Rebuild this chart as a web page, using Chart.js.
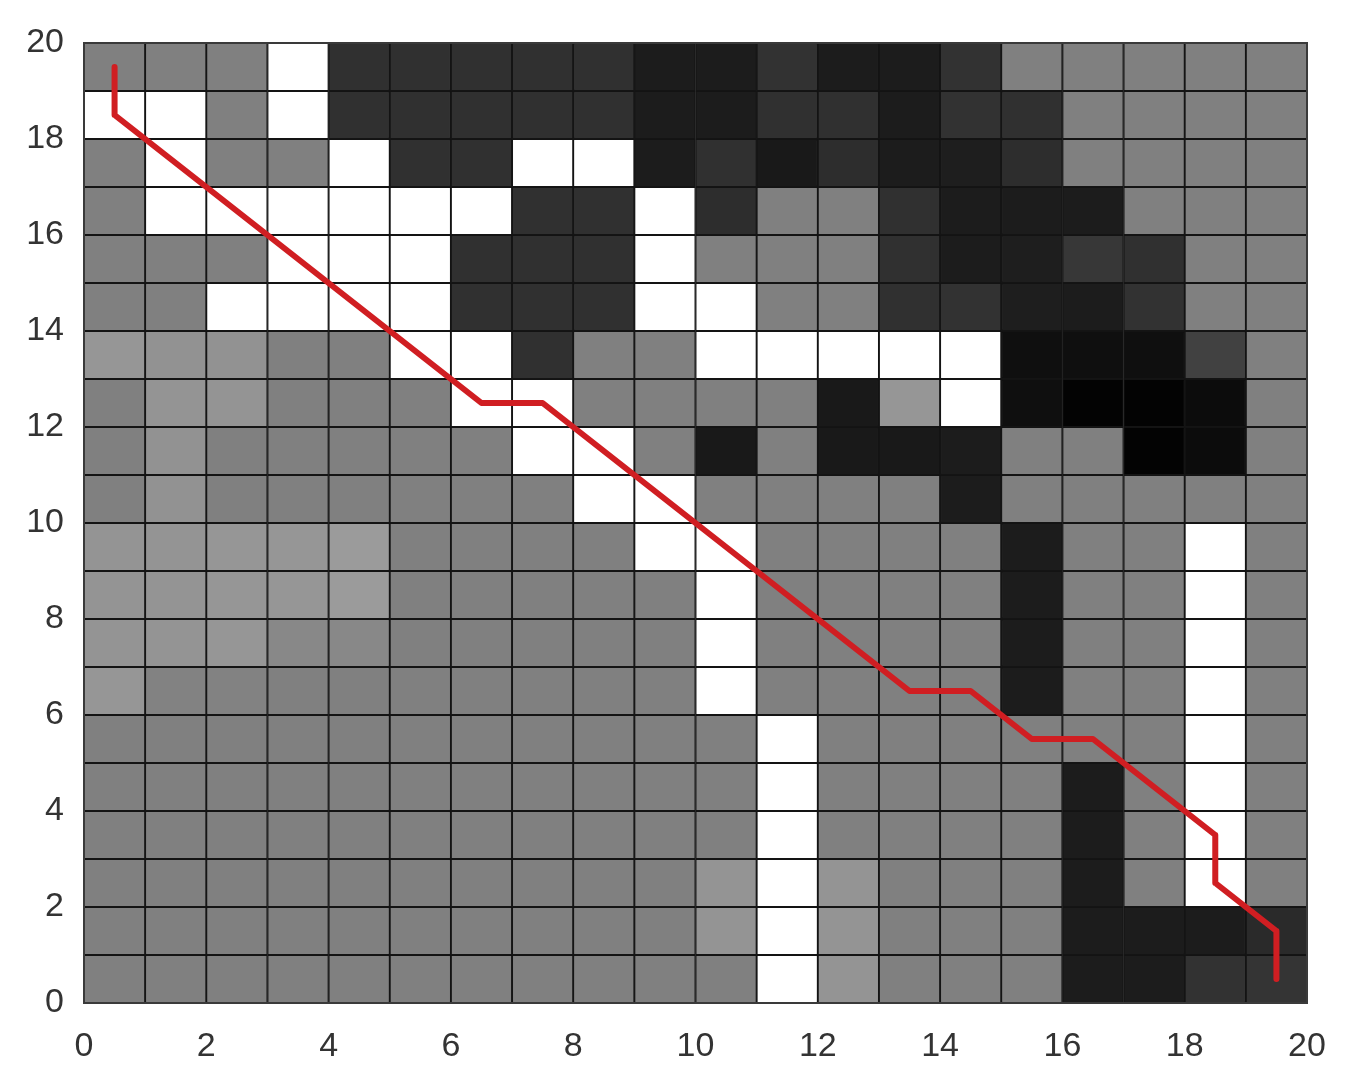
<!DOCTYPE html>
<html>
<head>
<meta charset="utf-8">
<script src="https://cdn.jsdelivr.net/npm/chart.js@4/dist/chart.umd.min.js"></script>
<style>
  html, body { margin: 0; padding: 0; background: #fff; }
  #wrap { width: 1352px; height: 1088px; }
</style>
</head>
<body>
<div id="wrap"><canvas id="grid"></canvas></div>
<script>
// grey level of each cell (0 = black, 255 = white), top row (y 19..20) first
const cellShade = [
  [128,128,128,255,48,48,48,48,48,28, 28,50,28,28,50,128,128,128,128,128],
  [255,255,128,255,48,48,48,48,48,28, 28,48,48,28,50,48,128,128,128,128],
  [128,255,128,128,255,48,48,255,255,28, 48,25,45,28,30,45,128,128,128,128],
  [128,255,255,255,255,255,255,48,48,255, 45,128,128,48,28,28,28,128,128,128],
  [128,128,128,255,255,255,48,48,48,255, 128,128,128,48,28,30,55,48,128,128],
  [128,128,255,255,255,255,48,48,48,255, 255,128,128,48,50,30,28,50,128,128],
  [150,146,146,128,128,255,255,48,128,128, 255,255,255,255,255,15,15,15,65,128],
  [128,148,148,128,128,128,255,255,128,128, 128,128,25,150,255,15,3,3,12,128],
  [128,146,128,128,128,128,128,255,255,128, 25,128,25,25,28,128,128,3,12,128],
  [128,146,128,128,128,128,128,128,255,255, 128,128,128,128,28,128,128,128,128,128],
  [148,148,150,150,155,128,128,128,128,255, 255,128,128,128,128,28,128,128,255,128],
  [148,148,150,150,155,128,128,128,128,128, 255,128,128,128,128,28,128,128,255,128],
  [148,148,150,136,136,128,128,128,128,128, 255,128,128,128,128,28,128,128,255,128],
  [150,130,130,128,128,128,128,128,128,128, 255,128,128,128,128,28,128,128,255,128],
  [128,128,128,128,128,128,128,128,128,128, 128,255,128,128,128,128,128,128,255,128],
  [128,128,128,128,128,128,128,128,128,128, 128,255,128,128,128,128,28,128,255,128],
  [128,128,128,128,128,128,128,128,128,128, 128,255,128,128,128,128,28,128,255,128],
  [128,128,128,128,128,128,128,128,128,128, 148,255,148,128,128,128,28,128,255,128],
  [128,128,128,128,128,128,128,128,128,128, 148,255,148,128,128,128,28,28,28,42],
  [128,128,128,128,128,128,128,128,128,128, 128,255,148,128,128,128,28,28,50,52]
];

// red path through cell centres
const pathX = [0.5, 0.5, 6.5, 7.5, 13.5, 14.5, 15.5, 16.5, 18.5, 18.5, 19.5, 19.5];
const pathY = [19.5, 18.5, 12.5, 12.5, 6.5, 6.5, 5.5, 5.5, 3.5, 2.5, 1.5, 0.5];

const xTickValues = [0, 2, 4, 6, 8, 10, 12, 14, 16, 18, 20];
const yTickValues = [0, 2, 4, 6, 8, 10, 12, 14, 16, 18, 20];

const nRows = cellShade.length;

function grey(v) {
  return 'rgb(' + v + ',' + v + ',' + v + ')';
}

// one floating-bar dataset per row of cells
const rowSets = [];
for (let r = 0; r < nRows; r++) {
  const yLow = nRows - 1 - r;
  const row = cellShade[r];
  rowSets.push({
    type: 'bar',
    data: row.map((v, c) => ({ x: c + 0.5, y: [yLow, yLow + 1] })),
    backgroundColor: row.map(grey),
    borderColor: '#141414',
    borderWidth: 1.3,
    borderSkipped: false,
    barPercentage: 1,
    categoryPercentage: 1,
    grouped: false,
    stack: 'cells',
    order: 2
  });
}

const pathSet = {
  type: 'line',
  data: pathX.map((x, k) => ({ x: x, y: pathY[k] })),
  borderColor: '#d01e22',
  borderWidth: 6,
  pointRadius: 0,
  tension: 0,
  fill: false,
  borderJoinStyle: 'round',
  borderCapStyle: 'round',
  order: 0
};

const tickFont = { family: '"Liberation Sans", Arial, sans-serif', size: 34 };

new Chart(document.getElementById('grid').getContext('2d'), {
  type: 'bar',
  data: { datasets: [pathSet].concat(rowSets) },
  options: {
    responsive: true,
    maintainAspectRatio: false,
    animation: false,
    layout: { padding: { top: 43, right: 45, left: 0, bottom: 0 } },
    plugins: { legend: { display: false }, tooltip: { enabled: false } },
    scales: {
      x: {
        type: 'linear',
        position: 'bottom',
        min: 0, max: 20,
        offset: false,
        afterBuildTicks: s => { s.ticks = xTickValues.map(v => ({ value: v })); },
        afterFit: s => { s.height = 85; },
        ticks: { font: tickFont, color: '#333333', padding: 23, maxRotation: 0, autoSkip: false },
        grid: { display: false, drawTicks: false },
        border: { display: true, color: '#3a3a3a', width: 2, z: 1 }
      },
      y: {
        type: 'linear',
        position: 'left',
        min: 0, max: 20,
        stacked: false,
        afterBuildTicks: s => { s.ticks = yTickValues.map(v => ({ value: v })); },
        afterFit: s => { s.width = 84; },
        ticks: { font: tickFont, color: '#333333', padding: 20, autoSkip: false },
        grid: { display: false, drawTicks: false },
        border: { display: true, color: '#3a3a3a', width: 2, z: 1 }
      },
      x2: {
        type: 'linear',
        position: 'top',
        min: 0, max: 20,
        afterFit: s => { s.height = 0; },
        ticks: { display: false },
        grid: { display: false, drawTicks: false },
        border: { display: true, color: '#3a3a3a', width: 2, z: 1 }
      },
      y2: {
        type: 'linear',
        position: 'right',
        min: 0, max: 20,
        afterFit: s => { s.width = 0; },
        ticks: { display: false },
        grid: { display: false, drawTicks: false },
        border: { display: true, color: '#3a3a3a', width: 2, z: 1 }
      }
    }
  }
});
</script>
</body>
</html>
